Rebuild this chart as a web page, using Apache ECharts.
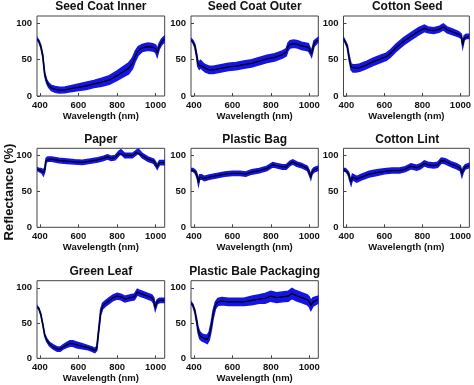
<!DOCTYPE html>
<html><head><meta charset="utf-8">
<script src="https://cdn.jsdelivr.net/npm/echarts@6/dist/echarts.min.js"></script>
<style>html,body{margin:0;padding:0;background:#fff}#c{width:474px;height:385px}</style>
</head><body><div id="c"></div>
<script>
// ---- data ----
const titles = ["Seed Coat Inner","Seed Coat Outer","Cotton Seed","Paper","Plastic Bag","Cotton Lint","Green Leaf","Plastic Bale Packaging"];
const xTicks = [400, 600, 800, 1000];
const yTicks = [0, 50, 100];

const wlSeedInner = [387,395,405,415,425,435,445,460,480,500,530,560,600,640,680,720,760,800,830,860,880,895,910,930,960,985,1000,1008,1018,1030,1045];
const meanSeedInner = [78,75,68,55,30,20,15,11,9,8,8.5,10,12,14,16.5,19,22,28,33,38,45,55,62,66,68,67,65,59,68,74,78];
const errSeedInner = [1.5,1.5,1.5,2,2,2.5,3,3.5,4,4,4,4,4.5,5,5,5.5,6,6.5,7,7.5,7.5,7,6,5,5,5,5,5,4,4,4];

const wlSeedOuter = [387,395,405,415,420,428,435,445,460,480,500,540,580,620,660,700,740,780,820,860,880,890,900,920,940,960,980,995,1005,1012,1025,1045];
const meanSeedOuter = [77,75,69,55,45,42,44,41,38,36,36,38,40,41,43,45,48,51,53,57,60,68,71,72,71,69,68,67,62,58,72,77];
const errSeedOuter = [1.5,1.5,2,3,4,5,5,5,5,5,5,5,5,5,5,5,5,5,5,5,5,5,5,5,5,5,5,5,4,4,4,3];

const wlCottonSeed = [387,395,405,415,425,435,450,470,500,540,580,610,630,660,700,740,780,810,830,860,890,910,930,960,990,1005,1012,1020,1030,1045];
const meanCottonSeed = [78,74,68,52,40,38,38,39,42,47,51,54,58,66,75,82,89,93,91,90,92,95,91,88,85,82,70,80,82,82];
const errCottonSeed = [1.5,1.5,2,3,4,5,5,5,5,5,5,5,5,5,5,5,5,4.5,4,4,4,4,4,4,3.5,3,3,3,3,3];

const wlPaper = [387,395,405,412,418,425,432,440,460,500,540,580,620,660,700,730,750,770,790,810,820,840,860,880,900,910,930,960,990,1000,1008,1020,1045];
const meanPaper = [81,80,79,78,76,80,93,95,95,93,92,91,90.5,92,94,96,98,96,97,103,105,100,100,100,104,106,100,95,92,88,84,90,90];
const errPaper = [2,2,3,3,4,3,3,3,3,3,3,3,3,3,3,3,3,3,3,3,3,3,3,3,3,3,3,3,3,3,3,3,3];

const wlPlasticBag = [387,395,405,412,418,424,430,440,455,480,520,560,600,640,670,700,740,780,810,830,860,880,900,915,935,960,990,1000,1008,1015,1025,1045];
const meanPlasticBag = [80,80,78,75,70,62,70,70,68,70,72,74,75,75,74,77,79,82,87,86,84,84,89,91,88,86,82,76,70,77,80,82];
const errPlasticBag = [2,2,2,3,3,3,3,3,3,3,3,3,3,3,3,3,3,3,3,3,3,3,3,3,3,3,3,3,3,3,3,3];

const wlCottonLint = [387,395,405,412,418,425,432,440,455,480,520,560,600,640,680,710,740,770,790,810,830,860,880,900,920,950,980,1000,1008,1015,1025,1045];
const meanCottonLint = [80,80,77,74,68,63,70,69,67,70,74,76,78,79,79,81,85,83,85,89,87,86,87,93,92,88,85,82,74,80,84,86];
const errCottonLint = [2,2,2,3,3,4,4,4,4,4,4,4,3.5,3.5,3.5,3.5,3.5,3.5,3.5,3.5,3.5,3.5,3.5,3.5,3.5,3.5,3.5,3.5,3.5,3.5,3,3];

const wlGreenLeaf = [387,395,405,415,425,435,450,470,490,505,520,540,555,570,590,620,650,670,685,695,705,715,725,740,760,780,800,820,840,870,890,905,920,940,960,980,990,998,1008,1020,1045];
const meanGreenLeaf = [73,70,62,48,33,26,20,16,13,13,16,19,21,21,19,17,15,13,11,14,40,65,74,78,82,86,88,87,84,86,87,94,92,90,88,86,82,72,80,82,82];
const errGreenLeaf = [1,1,1,1,1.5,2,2.5,3,3,3,3,3.5,4,4,4,3.5,3,3,3,3,3,4,4,4,4,4,4,4,4,4,4,4,4,4,4,4,4,4,3,3,3];

const wlBale = [387,395,405,415,422,430,440,455,470,480,490,500,512,525,545,580,620,660,700,740,770,800,830,860,890,910,930,960,990,1000,1008,1020,1045];
const meanBale = [78,75,67,52,40,33,30,28,27,32,45,62,75,80,81,80,80,80,82,84,85,88,86,87,88,92,89,86,83,80,75,80,83];
const errBale = [1.5,1.5,2,3,4,5,5,5,6,6,6,6,5,5,5,5,5,5,6,6,7,7,7,7,7,7,7,7,7,7,7,6,5];

const panels = [
  [wlSeedInner, meanSeedInner, errSeedInner],
  [wlSeedOuter, meanSeedOuter, errSeedOuter],
  [wlCottonSeed, meanCottonSeed, errCottonSeed],
  [wlPaper, meanPaper, errPaper],
  [wlPlasticBag, meanPlasticBag, errPlasticBag],
  [wlCottonLint, meanCottonLint, errCottonLint],
  [wlGreenLeaf, meanGreenLeaf, errGreenLeaf],
  [wlBale, meanBale, errBale]
];

// ---- layout ----
const colLeft = [37, 191, 343.5];
const colWidth = [127.7, 127.3, 127.5];
const rowTop = [16, 148.3, 280.7];
const rowHeight = [80, 79, 77.6];
const FONT = '"Liberation Sans", Arial, sans-serif';
const frame = '#444';

const grids = [], xAxes = [], yAxes = [], series = [], titleArr = [];
panels.forEach((p, i) => {
  const r = Math.floor(i / 3), c = i % 3;
  grids.push({left: colLeft[c], top: rowTop[r], width: colWidth[c], height: rowHeight[r],
    show: true, borderColor: frame, borderWidth: 1, backgroundColor: 'transparent'});
  xAxes.push({type: 'value', gridIndex: i, min: 385, max: 1047,
    splitLine: {show: false}, axisLine: {show: false},
    axisTick: {show: true, inside: true, length: 3, lineStyle: {color: frame}, customValues: xTicks},
    axisLabel: {customValues: xTicks, margin: 4, fontFamily: FONT, fontWeight: 'bold', fontSize: 9.5, color: '#111',
      formatter: v => String(v)},
    name: 'Wavelength (nm)', nameLocation: 'middle', nameGap: 15,
    nameTextStyle: {fontFamily: FONT, fontWeight: 'bold', fontSize: 9.5, color: '#111'}});
  yAxes.push({type: 'value', gridIndex: i, min: 0, max: 110,
    splitLine: {show: false}, axisLine: {show: false},
    axisTick: {show: true, inside: true, length: 3, lineStyle: {color: frame}, customValues: yTicks},
    axisLabel: {customValues: yTicks, margin: 5, fontFamily: FONT, fontWeight: 'bold', fontSize: 9.5, color: '#111',
      formatter: v => String(v)}});
  titleArr.push({text: titles[i], left: colLeft[c] + colWidth[c] / 2, top: rowTop[r] - 15, textAlign: 'center', padding: 0,
    textStyle: {fontFamily: FONT, fontWeight: 'bold', fontSize: 12, color: '#111'}});
  const wl = p[0], mean = p[1], err = p[2];
  series.push({type: 'custom', xAxisIndex: i, yAxisIndex: i, silent: true, z: 2,
    data: [[wl[0], mean[0]]],
    clip: true,
    renderItem: function (params, api) {
      const pts = [];
      for (let k = 0; k < wl.length; k++) pts.push(api.coord([wl[k], mean[k] + err[k]]));
      for (let k = wl.length - 1; k >= 0; k--) pts.push(api.coord([wl[k], mean[k] - err[k]]));
      return {type: 'polygon', shape: {points: pts}, style: {fill: '#1414e6', stroke: '#1414e6', lineWidth: 1.5}};
    }});
  series.push({type: 'line', xAxisIndex: i, yAxisIndex: i, z: 3, silent: true,
    data: wl.map((w, k) => [w, mean[k]]), showSymbol: false, symbol: 'none',
    lineStyle: {color: '#000', width: 1.3}});
});

const chart = echarts.init(document.getElementById('c'), null, {renderer: 'canvas'});
chart.setOption({
  animation: false,
  title: titleArr,
  grid: grids, xAxis: xAxes, yAxis: yAxes, series: series,
  graphic: [{type: 'text', x: 9, y: 192, rotation: Math.PI / 2,
    style: {text: 'Reflectance (%)', fontFamily: FONT, fontWeight: 'bold', fontSize: 13, fill: '#111', align: 'center', verticalAlign: 'middle'}}]
});
</script></body></html>
